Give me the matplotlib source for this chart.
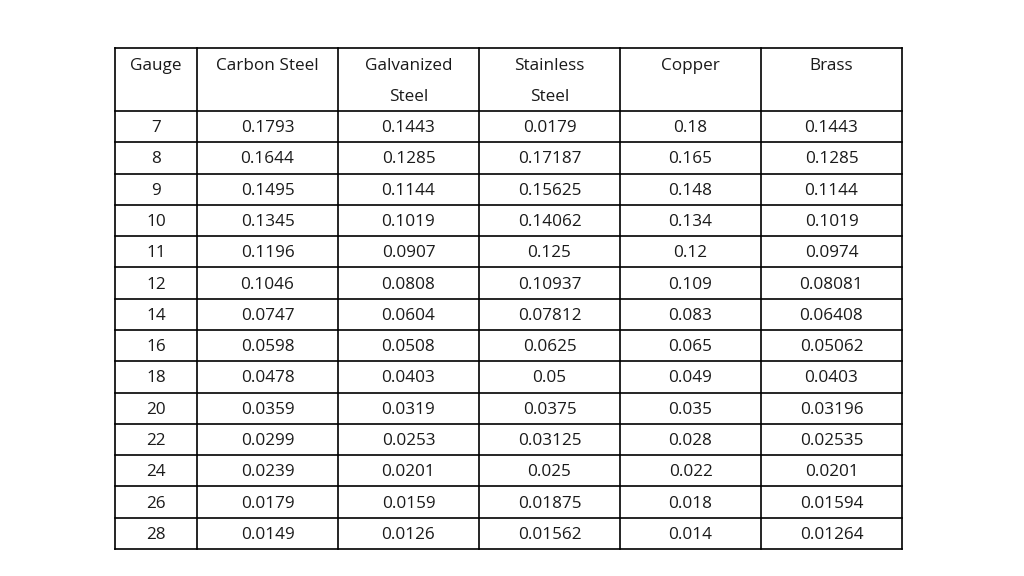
import matplotlib
matplotlib.use("Agg")
import matplotlib.pyplot as plt

headers = ["Gauge", "Carbon Steel", "Galvanized\nSteel", "Stainless\nSteel", "Copper", "Brass"]
gauges = ["7", "8", "9", "10", "11", "12", "14", "16", "18", "20", "22", "24", "26", "28"]
carbon = ["0.1793", "0.1644", "0.1495", "0.1345", "0.1196", "0.1046", "0.0747", "0.0598", "0.0478", "0.0359", "0.0299", "0.0239", "0.0179", "0.0149"]
galv = ["0.1443", "0.1285", "0.1144", "0.1019", "0.0907", "0.0808", "0.0604", "0.0508", "0.0403", "0.0319", "0.0253", "0.0201", "0.0159", "0.0126"]
stainless = ["0.0179", "0.17187", "0.15625", "0.14062", "0.125", "0.10937", "0.07812", "0.0625", "0.05", "0.0375", "0.03125", "0.025", "0.01875", "0.01562"]
copper = ["0.18", "0.165", "0.148", "0.134", "0.12", "0.109", "0.083", "0.065", "0.049", "0.035", "0.028", "0.022", "0.018", "0.014"]
brass = ["0.1443", "0.1285", "0.1144", "0.1019", "0.0974", "0.08081", "0.06408", "0.05062", "0.0403", "0.03196", "0.02535", "0.0201", "0.01594", "0.01264"]

columns = [gauges, carbon, galv, stainless, copper, brass]
col_edges = [115, 197, 338, 479, 620, 761, 902]
top, head_bot, bottom = 48, 111, 549
n = len(gauges)
row_h = (bottom - head_bot) / n

fig = plt.figure(figsize=(10.24, 5.76), dpi=100)
ax = fig.add_axes([0, 0, 1, 1])
ax.set_xlim(0, 1024)
ax.set_ylim(576, 0)
ax.axis("off")

font = dict(family="Open Sans", fontsize=12.3, color="#1a1a1a")
lw = 1.2
for x in col_edges:
    ax.plot([x, x], [top, bottom], color="black", lw=lw)
ax.plot([col_edges[0], col_edges[-1]], [top, top], color="black", lw=lw)
ax.plot([col_edges[0], col_edges[-1]], [head_bot, head_bot], color="black", lw=lw)
for i in range(n):
    y = head_bot + (i + 1) * row_h
    ax.plot([col_edges[0], col_edges[-1]], [y, y], color="black", lw=lw)

for j, h in enumerate(headers):
    cx = (col_edges[j] + col_edges[j + 1]) / 2
    for k, line in enumerate(h.split("\n")):
        ax.text(cx, 66 + k * 31, line, ha="center", va="center", **font)

for j, col in enumerate(columns):
    cx = (col_edges[j] + col_edges[j + 1]) / 2
    for i, v in enumerate(col):
        cy = head_bot + (i + 0.5) * row_h + 1.5
        ax.text(cx, cy, v, ha="center", va="center", **font)

fig.savefig("out.png", dpi=100)
